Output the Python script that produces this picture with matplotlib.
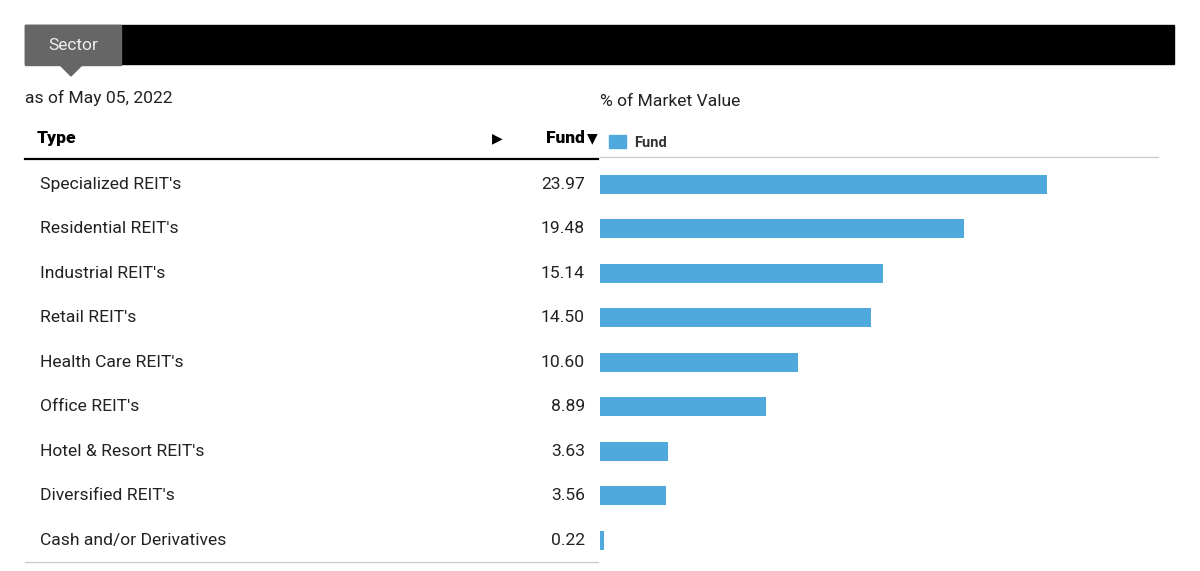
import matplotlib
matplotlib.use("Agg")
import matplotlib.pyplot as plt
from matplotlib.transforms import blended_transform_factory
from matplotlib.patches import Rectangle, Polygon

categories = ["Specialized REIT's", "Residential REIT's", "Industrial REIT's", "Retail REIT's",
              "Health Care REIT's", "Office REIT's", "Hotel & Resort REIT's", "Diversified REIT's",
              "Cash and/or Derivatives"]
values = [23.97, 19.48, 15.14, 14.50, 10.60, 8.89, 3.63, 3.56, 0.22]
value_labels = ["23.97", "19.48", "15.14", "14.50", "10.60", "8.89", "3.63", "3.56", "0.22"]

W, H = 1200, 571
plt.rcParams['font.family'] = ['Roboto', 'DejaVu Sans']
fig = plt.figure(figsize=(W / 100, H / 100), dpi=100)

def fx(px):
    return px / W

def fy(py):
    return 1 - py / H

TXT = '#222222'
BAR = '#4fa9dc'
FS = 12.6

# header band
fig.patches.append(Rectangle((fx(25), fy(64)), fx(1174) - fx(25), fy(25) - fy(64),
                             transform=fig.transFigure, color='black', zorder=0))
fig.patches.append(Rectangle((fx(25), fy(65)), fx(121) - fx(25), fy(25) - fy(65),
                             transform=fig.transFigure, color='#666666', zorder=1))
fig.patches.append(Polygon([(fx(60), fy(65)), (fx(82), fy(65)), (fx(71), fy(76))],
                           closed=True, transform=fig.transFigure, color='#666666', zorder=1))
fig.text(fx(73), fy(46), "Sector", color='#eeeeee', fontsize=12.5, ha='center', va='center')

fig.text(fx(25), fy(98), "as of May 05, 2022", color=TXT, fontsize=FS, ha='left', va='center')
fig.text(fx(600), fy(101), "% of Market Value", color=TXT, fontsize=FS, ha='left', va='center')

# table header
fig.text(fx(37), fy(138), "Type", color='black', fontsize=12.5, fontweight='heavy', ha='left', va='center')
fig.text(fx(497), fy(138), "\u25B6", color='black', fontsize=10, ha='center', va='center',
         family=['DejaVu Sans'])
fig.text(fx(585), fy(138), "Fund", color='black', fontsize=12.5, fontweight='heavy', ha='right', va='center')
fig.text(fx(592), fy(138), "\u25BC", color='black', fontsize=10, ha='center', va='center',
         family=['DejaVu Sans'])

# lines
fig.add_artist(plt.Line2D([fx(25), fx(598)], [fy(158.5), fy(158.5)], color='black', lw=1.6))
fig.add_artist(plt.Line2D([fx(600), fx(1158)], [fy(157), fy(157)], color='#cccccc', lw=1))
fig.add_artist(plt.Line2D([fx(25), fx(598)], [fy(562), fy(562)], color='#cccccc', lw=1))

# legend
fig.patches.append(Rectangle((fx(609), fy(148)), fx(626) - fx(609), fy(135) - fy(148),
                             transform=fig.transFigure, color=BAR))
fig.text(fx(634), fy(143), "Fund", color='#333333', fontsize=10.5, fontweight='bold',
         ha='left', va='center')

# bars axes
top, bottom = 158, 561
first, step = 184.5, 44.5
ax = fig.add_axes([fx(600), fy(bottom), fx(1160) - fx(600), fy(top) - fy(bottom)])
ax.set_xlim(0, 30)
ax.set_ylim((bottom - first) / step, (top - first) / step)
ypos = list(range(len(categories)))
ax.barh(ypos, values, height=19 / step, color=BAR)
ax.axis('off')

tr = blended_transform_factory(fig.transFigure, ax.transData)
for i, (c, lab) in enumerate(zip(categories, value_labels)):
    ax.text(fx(40), i, c, transform=tr, color=TXT, fontsize=FS, ha='left', va='center', clip_on=False)
    ax.text(fx(585), i, lab, transform=tr, color=TXT, fontsize=FS, ha='right', va='center', clip_on=False)

fig.savefig("out.png", dpi=100)
